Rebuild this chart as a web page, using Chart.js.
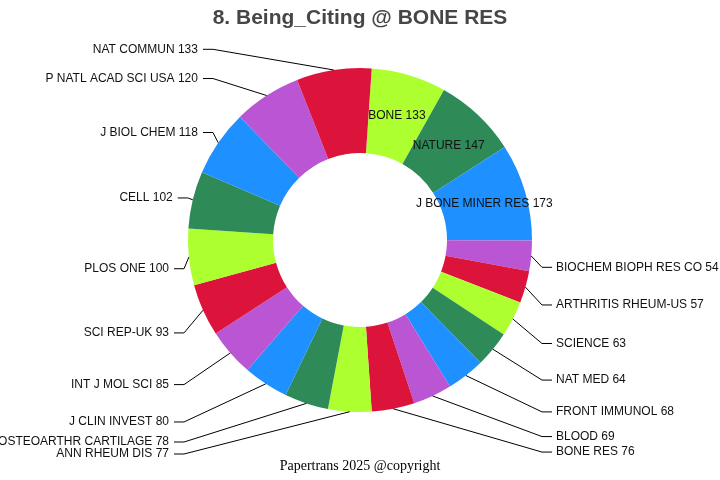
<!DOCTYPE html>
<html>
<head>
<meta charset="utf-8">
<script src="https://cdn.jsdelivr.net/npm/chart.js@4"></script>
<style>
  body { margin: 0; background: #fff; }
  #chart { display: block; }
</style>
</head>
<body>
<canvas id="chart" width="720" height="480"></canvas>
<script>
const chartTitle = "8. Being_Citing @ BONE RES";
const footerText = "Papertrans 2025 @copyright";

const journals = [
  "BONE", "NATURE", "J BONE MINER RES", "BIOCHEM BIOPH RES CO", "ARTHRITIS RHEUM-US",
  "SCIENCE", "NAT MED", "FRONT IMMUNOL", "BLOOD", "BONE RES",
  "ANN RHEUM DIS", "OSTEOARTHR CARTILAGE", "J CLIN INVEST", "INT J MOL SCI", "SCI REP-UK",
  "PLOS ONE", "CELL", "J BIOL CHEM", "P NATL ACAD SCI USA", "NAT COMMUN"
];
const counts = [133, 147, 173, 54, 57, 63, 64, 68, 69, 76, 77, 78, 80, 85, 93, 100, 102, 118, 120, 133];
const palette = ["#ADFF2F", "#2E8B57", "#1E90FF", "#BA55D3", "#DC143C"];

// first few slices carry their label inside the ring
const insideCount = 3;
const labelFont = "12px 'Liberation Sans', Arial, sans-serif";

function sliceColors(n){
  let out = [];
  for(let i = 0; i < n; i++){
    out.push(palette[i % palette.length]);
  }
  return out;
}

// spread labels of one side so they don't overlap
function spreadLabels(items, gap, minY, maxY){
  items.sort((a, b) => a.y - b.y);
  for(let i = 0; i < items.length; i++){
    if(i > 0 && items[i].y < items[i-1].y + gap) items[i].y = items[i-1].y + gap;
    if(items[i].y < minY) items[i].y = minY;
  }
  for(let i = items.length - 1; i >= 0; i--){
    if(items[i].y > maxY) items[i].y = maxY;
    if(i < items.length - 1 && items[i].y > items[i+1].y - gap) items[i].y = items[i+1].y - gap;
  }
}

const labelPlugin = {
  id: "pieLabels",
  afterDatasetsDraw(chart){
    const ctx = chart.ctx;
    const meta = chart.getDatasetMeta(0);
    let left = [], right = [];

    ctx.save();
    ctx.font = labelFont;
    ctx.fillStyle = "#111";
    ctx.textBaseline = "middle";

    meta.data.forEach((arc, i) => {
      const p = arc.getProps(["x", "y", "startAngle", "endAngle", "innerRadius", "outerRadius"], true);
      const mid = (p.startAngle + p.endAngle) / 2;
      const dx = Math.cos(mid), dy = Math.sin(mid);
      const text = `${journals[i]} ${counts[i]}`;
      if(i < insideCount){
        const r = (p.innerRadius + p.outerRadius) / 2;
        ctx.textAlign = "center";
        ctx.fillText(text, p.x + r * dx, p.y + r * dy);
        return;
      }
      const R = p.outerRadius;
      const ex = p.x + R * dx, ey = p.y + R * dy;
      const ly = dy < 0 ? p.y + 4 + (R + 25) * dy : p.y + 8 + (R + 36) * dy;
      const item = { text, ex, ey, y: ly, cx: p.x, cy: p.y, R, upper: dy < 0 };
      (dx >= 0 ? right : left).push(item);
    });

    const cy = chart.getDatasetMeta(0).data[0].y;
    spreadLabels(left, 12, cy - 192, cy + 214);
    spreadLabels(right, 12, cy - 192, cy + 214);

    ctx.strokeStyle = "#000";
    ctx.lineWidth = 1;

    right.forEach(it => {
      let bx = it.upper ? Math.max(it.cx + it.R * 0.855, it.ex + 5) : it.cx + it.R + 10;
      ctx.beginPath();
      ctx.moveTo(it.ex, it.ey);
      ctx.lineTo(bx, it.y);
      ctx.lineTo(bx + 10, it.y);
      ctx.stroke();
      ctx.textAlign = "left";
      ctx.fillText(it.text, bx + 14, it.y);
    });

    left.forEach(it => {
      let bx = it.upper ? Math.min(it.cx - it.R * 0.855, it.ex - 5) : it.cx - it.R - 4;
      ctx.beginPath();
      ctx.moveTo(it.ex, it.ey);
      ctx.lineTo(bx, it.y);
      ctx.lineTo(bx - 10, it.y);
      ctx.stroke();
      ctx.textAlign = "right";
      ctx.fillText(it.text, bx - 15, it.y);
    });

    // title + footer
    ctx.textAlign = "center";
    ctx.fillStyle = "#464646";
    ctx.font = "bold 21px 'Liberation Sans', Arial, sans-serif";
    ctx.fillText(chartTitle, chart.width / 2, 18);
    ctx.fillStyle = "#000";
    ctx.font = "14px 'Liberation Serif', 'Times New Roman', serif";
    ctx.fillText(footerText, chart.width / 2, 466);
    ctx.restore();
  }
};

new Chart(document.getElementById("chart"), {
  type: "doughnut",
  data: {
    labels: journals,
    datasets: [{
      data: counts,
      backgroundColor: sliceColors(counts.length),
      borderWidth: 0,
      hoverOffset: 0,
      offset: 0
    }]
  },
  options: {
    responsive: false,
    animation: false,
    events: [],
    rotation: 3.9,
    radius: 172,
    cutout: 87,
    layout: { padding: { top: 68, bottom: 68, left: 0, right: 0 } },
    plugins: {
      legend: { display: false },
      tooltip: { enabled: false },
      title: { display: false }
    }
  },
  plugins: [labelPlugin]
});
</script>
</body>
</html>
